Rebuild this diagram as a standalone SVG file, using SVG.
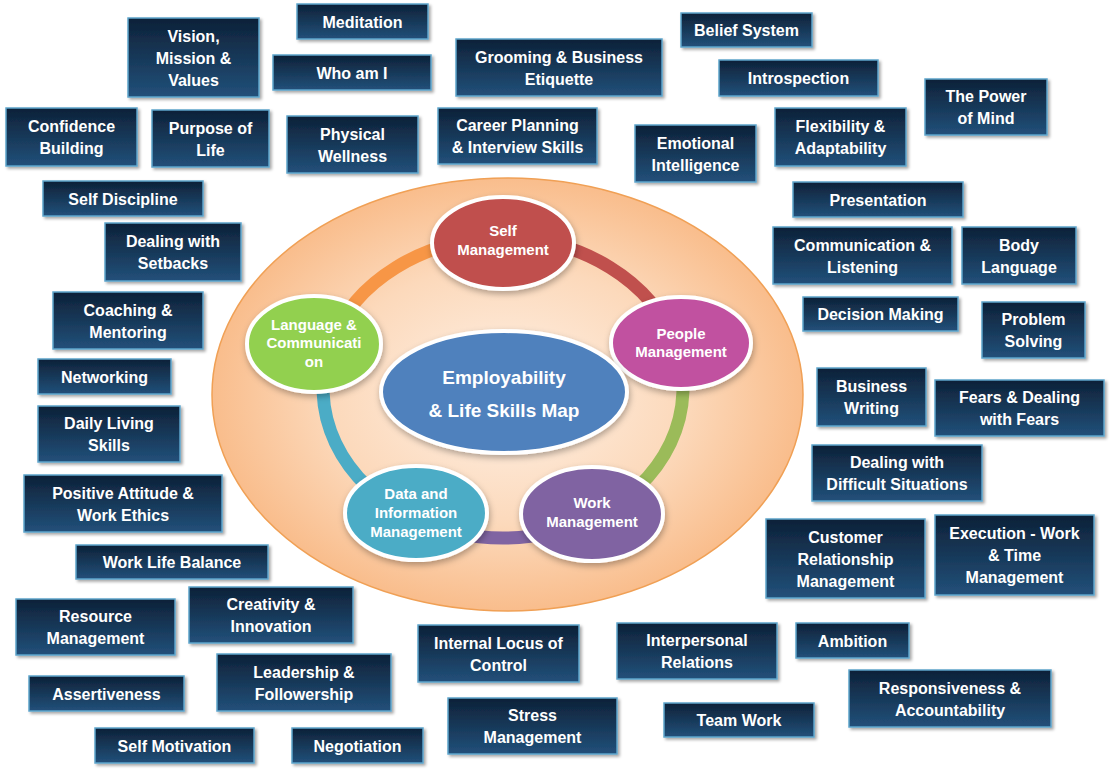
<svg xmlns="http://www.w3.org/2000/svg" width="1110" height="776" viewBox="0 0 1110 776">
<defs>
<linearGradient id="boxg" x1="0" y1="0" x2="0" y2="1">
<stop offset="0" stop-color="#0d2138"/>
<stop offset="1" stop-color="#22507a"/>
</linearGradient>
<radialGradient id="peach" cx="0.5" cy="0.5" r="0.5">
<stop offset="0" stop-color="#fef1e6"/>
<stop offset="0.6" stop-color="#fcd9bb"/>
<stop offset="1" stop-color="#f9bd8c"/>
</radialGradient>
<filter id="sh" x="-10%" y="-10%" width="125%" height="130%">
<feDropShadow dx="2" dy="2" stdDeviation="1.5" flood-color="#000" flood-opacity="0.35"/>
</filter>
<filter id="csh" x="-15%" y="-15%" width="135%" height="140%">
<feDropShadow dx="1" dy="3" stdDeviation="3" flood-color="#000" flood-opacity="0.3"/>
</filter>
<style>
.box rect{fill:url(#boxg);stroke:#5ea5cc;stroke-width:1.5;filter:url(#sh)}
.box text{fill:#fff;font-family:"Liberation Sans",Arial,sans-serif;font-weight:bold;font-size:16px;text-anchor:middle}
.hub ellipse{stroke:#fff;stroke-width:4;filter:url(#csh)}
.hub text{fill:#fff;font-family:"Liberation Sans",Arial,sans-serif;font-weight:bold;font-size:15px;text-anchor:middle}
.ring{fill:none;stroke-width:13}
</style>
</defs>
<rect width="1110" height="776" fill="#fff"/>

<g id="background">
<ellipse cx="507.5" cy="394.5" rx="295.5" ry="216.5" fill="url(#peach)" stroke="#f0a055" stroke-width="1.5"/>
</g>

<g id="connectors">
<path class="ring" stroke="#c0504d" d="M503,238 A180,150 0 0 1 675.1,344.1"/>
<path class="ring" stroke="#9bbb59" d="M675.1,344.1 A180,150 0 0 1 593,517.9"/>
<path class="ring" stroke="#8064a2" d="M593,517.9 A180,150 0 0 1 413,517.9"/>
<path class="ring" stroke="#4bacc6" d="M413,517.9 A180,150 0 0 1 330.9,344.1"/>
<path class="ring" stroke="#f79646" d="M330.9,344.1 A180,150 0 0 1 503,238"/>
</g>

<g id="self-management" class="hub">
<ellipse cx="503" cy="243" rx="71" ry="46" fill="#c0504d"/>
<text x="503" y="236">Self</text>
<text x="503" y="255">Management</text>
</g>
<g id="people-management" class="hub">
<ellipse cx="681" cy="343" rx="70" ry="46" fill="#c151a0"/>
<text x="681" y="339">People</text>
<text x="681" y="357">Management</text>
</g>
<g id="work-management" class="hub">
<ellipse cx="592" cy="514" rx="71" ry="47" fill="#8064a2"/>
<text x="592" y="508">Work</text>
<text x="592" y="527">Management</text>
</g>
<g id="data-information-management" class="hub">
<ellipse cx="416" cy="513" rx="71" ry="47" fill="#4bacc6"/>
<text x="416" y="499">Data and</text>
<text x="416" y="518">Information</text>
<text x="416" y="537">Management</text>
</g>
<g id="language-communication" class="hub">
<ellipse cx="314" cy="344" rx="67" ry="48" fill="#92d050"/>
<text x="314" y="330">Language &amp;</text>
<text x="314" y="348">Communicati</text>
<text x="314" y="367">on</text>
</g>
<g id="center" class="hub">
<ellipse cx="504" cy="392" rx="123" ry="61" fill="#4f81bd"/>
<text x="504" y="384" style="font-size:19px">Employability</text>
<text x="504" y="417" style="font-size:19px">&amp; Life Skills Map</text>
</g>

<g id="meditation" class="box"><rect x="297" y="4" width="131" height="35"/><text x="362.5" y="27.5">Meditation</text></g>
<g id="vision-mission-values" class="box"><rect x="128" y="18" width="131" height="79"/><text x="193.5" y="41.5">Vision,</text><text x="193.5" y="63.5">Mission &amp;</text><text x="193.5" y="85.5">Values</text></g>
<g id="who-am-i" class="box"><rect x="273" y="55" width="158" height="35"/><text x="352" y="78.5">Who am I</text></g>
<g id="confidence-building" class="box"><rect x="6" y="108" width="131" height="58"/><text x="71.5" y="132">Confidence</text><text x="71.5" y="154">Building</text></g>
<g id="purpose-of-life" class="box"><rect x="152" y="110" width="117" height="57"/><text x="210.5" y="133.5">Purpose of</text><text x="210.5" y="155.5">Life</text></g>
<g id="physical-wellness" class="box"><rect x="287" y="116" width="131" height="57"/><text x="352.5" y="139.5">Physical</text><text x="352.5" y="161.5">Wellness</text></g>
<g id="grooming" class="box"><rect x="456" y="39" width="206" height="57"/><text x="559" y="62.5">Grooming &amp; Business</text><text x="559" y="84.5">Etiquette</text></g>
<g id="belief-system" class="box"><rect x="681" y="13" width="131" height="34"/><text x="746.5" y="36">Belief System</text></g>
<g id="introspection" class="box"><rect x="719" y="60" width="159" height="36"/><text x="798.5" y="84">Introspection</text></g>
<g id="power-of-mind" class="box"><rect x="925" y="79" width="122" height="56"/><text x="986" y="102">The Power</text><text x="986" y="124">of Mind</text></g>
<g id="career-planning" class="box"><rect x="438" y="108" width="159" height="56"/><text x="517.5" y="131">Career Planning</text><text x="517.5" y="153">&amp; Interview Skills</text></g>
<g id="emotional-intelligence" class="box"><rect x="635" y="125" width="121" height="57"/><text x="695.5" y="148.5">Emotional</text><text x="695.5" y="170.5">Intelligence</text></g>
<g id="flexibility" class="box"><rect x="775" y="108" width="131" height="58"/><text x="840.5" y="132">Flexibility &amp;</text><text x="840.5" y="154">Adaptability</text></g>
<g id="presentation" class="box"><rect x="793" y="182" width="170" height="35"/><text x="878" y="205.5">Presentation</text></g>
<g id="communication-listening" class="box"><rect x="773" y="227" width="179" height="57"/><text x="862.5" y="250.5">Communication &amp;</text><text x="862.5" y="272.5">Listening</text></g>
<g id="body-language" class="box"><rect x="962" y="227" width="114" height="57"/><text x="1019" y="250.5">Body</text><text x="1019" y="272.5">Language</text></g>
<g id="decision-making" class="box"><rect x="803" y="297" width="155" height="34"/><text x="880.5" y="320">Decision Making</text></g>
<g id="problem-solving" class="box"><rect x="982" y="302" width="103" height="56"/><text x="1033.5" y="325">Problem</text><text x="1033.5" y="347">Solving</text></g>
<g id="business-writing" class="box"><rect x="817" y="368" width="109" height="58"/><text x="871.5" y="392">Business</text><text x="871.5" y="414">Writing</text></g>
<g id="fears" class="box"><rect x="935" y="380" width="169" height="56"/><text x="1019.5" y="403">Fears &amp; Dealing</text><text x="1019.5" y="425">with Fears</text></g>
<g id="difficult-situations" class="box"><rect x="812" y="445" width="170" height="56"/><text x="897" y="468">Dealing with</text><text x="897" y="490">Difficult Situations</text></g>
<g id="customer-relationship" class="box"><rect x="766" y="519" width="159" height="79"/><text x="845.5" y="542.5">Customer</text><text x="845.5" y="564.5">Relationship</text><text x="845.5" y="586.5">Management</text></g>
<g id="execution" class="box"><rect x="935" y="515" width="159" height="80"/><text x="1014.5" y="539">Execution - Work</text><text x="1014.5" y="561">&amp; Time</text><text x="1014.5" y="583">Management</text></g>
<g id="self-discipline" class="box"><rect x="43" y="181" width="160" height="35"/><text x="123" y="204.5">Self Discipline</text></g>
<g id="dealing-setbacks" class="box"><rect x="105" y="223" width="136" height="58"/><text x="173" y="247">Dealing with</text><text x="173" y="269">Setbacks</text></g>
<g id="coaching" class="box"><rect x="53" y="292" width="150" height="57"/><text x="128" y="315.5">Coaching &amp;</text><text x="128" y="337.5">Mentoring</text></g>
<g id="networking" class="box"><rect x="38" y="359" width="133" height="35"/><text x="104.5" y="382.5">Networking</text></g>
<g id="daily-living" class="box"><rect x="38" y="406" width="142" height="56"/><text x="109" y="429">Daily Living</text><text x="109" y="451">Skills</text></g>
<g id="positive-attitude" class="box"><rect x="24" y="475" width="198" height="57"/><text x="123" y="498.5">Positive Attitude &amp;</text><text x="123" y="520.5">Work Ethics</text></g>
<g id="work-life-balance" class="box"><rect x="76" y="545" width="192" height="34"/><text x="172" y="568">Work Life Balance</text></g>
<g id="resource-management" class="box"><rect x="16" y="599" width="159" height="56"/><text x="95.5" y="622">Resource</text><text x="95.5" y="644">Management</text></g>
<g id="creativity" class="box"><rect x="189" y="587" width="164" height="56"/><text x="271" y="610">Creativity &amp;</text><text x="271" y="632">Innovation</text></g>
<g id="assertiveness" class="box"><rect x="29" y="676" width="155" height="35"/><text x="106.5" y="699.5">Assertiveness</text></g>
<g id="leadership" class="box"><rect x="217" y="654" width="174" height="57"/><text x="304" y="677.5">Leadership &amp;</text><text x="304" y="699.5">Followership</text></g>
<g id="self-motivation" class="box"><rect x="95" y="728" width="159" height="35"/><text x="174.5" y="751.5">Self Motivation</text></g>
<g id="negotiation" class="box"><rect x="292" y="728" width="131" height="35"/><text x="357.5" y="751.5">Negotiation</text></g>
<g id="internal-locus" class="box"><rect x="418" y="625" width="161" height="57"/><text x="498.5" y="648.5">Internal Locus of</text><text x="498.5" y="670.5">Control</text></g>
<g id="interpersonal" class="box"><rect x="617" y="623" width="160" height="56"/><text x="697" y="646">Interpersonal</text><text x="697" y="668">Relations</text></g>
<g id="ambition" class="box"><rect x="796" y="623" width="113" height="35"/><text x="852.5" y="646.5">Ambition</text></g>
<g id="responsiveness" class="box"><rect x="849" y="670" width="202" height="57"/><text x="950" y="693.5">Responsiveness &amp;</text><text x="950" y="715.5">Accountability</text></g>
<g id="stress-management" class="box"><rect x="448" y="698" width="169" height="56"/><text x="532.5" y="721">Stress</text><text x="532.5" y="743">Management</text></g>
<g id="team-work" class="box"><rect x="664" y="703" width="150" height="34"/><text x="739" y="726">Team Work</text></g>
</svg>
